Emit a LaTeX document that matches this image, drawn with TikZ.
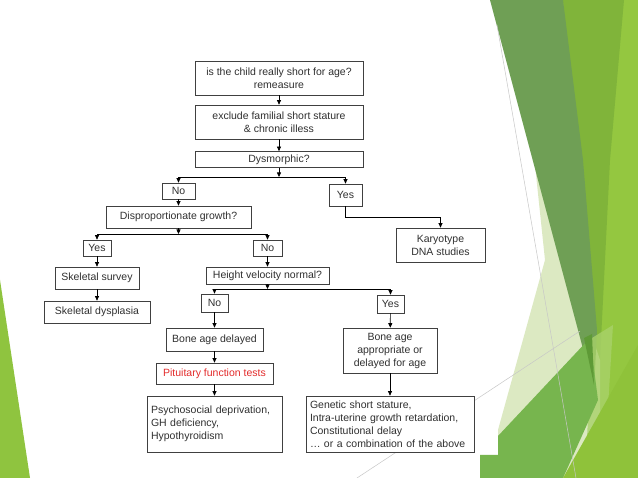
\documentclass[tikz,border=0pt]{standalone}
\usepackage{fontspec}
\setmainfont{Liberation Sans}
\usetikzlibrary{arrows.meta}
\definecolor{boxc}{HTML}{404040}
\definecolor{txt}{HTML}{303030}
\definecolor{redt}{HTML}{E32B2B}
\definecolor{gbright}{HTML}{94C740}
\definecolor{gmed}{HTML}{80B43A}
\definecolor{gdark}{HTML}{6F9F55}
\definecolor{gpale}{HTML}{DCE9C2}
\definecolor{gbottom}{HTML}{77B54E}
\definecolor{gyel}{HTML}{8FC23A}
\definecolor{glight}{HTML}{A8D16A}
\definecolor{gtip}{HTML}{5E9A36}
\definecolor{gleft}{HTML}{8FC43F}
\begin{document}
\begin{tikzpicture}[x=1pt,y=-1pt,
  box/.style={draw=boxc, line width=0.7pt, fill=white, inner sep=0pt, align=center, text=txt, font=\fontsize{10.5}{13}\selectfont},
  lbox/.style={box, align=left, inner xsep=4pt},
  arr/.style={-{Triangle[length=4.5pt,width=4pt]}, line width=0.7pt},
  thin/.style={draw=black!22, line width=0.5pt}]
\useasboundingbox (0,0) rectangle (638,478);
\fill[white] (0,0) rectangle (638,478);
% background decoration
\fill[gleft] (0,280) -- (30,478) -- (0,478) -- cycle;
\fill[gbright] (560,0) -- (638,0) -- (638,478) -- (560,478) -- cycle;
\fill[gmed] (563,0) -- (624,0) -- (610,160) -- (597,420) -- cycle;
\fill[gpale] (535,165) -- (545,260) -- (498,430) -- (498,478) -- (600,478) -- (600,360) -- cycle;
\fill[gdark] (490,0) -- (563,0) -- (583,160) -- (597,330) -- (594,390) -- cycle;
\fill[glight, opacity=0.8] (592,338) -- (613,325) -- (606,440) -- (585,478) -- cycle;
\fill[gbottom] (480,478) -- (480,455) -- (498,455) -- (498,436) -- (590,338) -- (598,400) -- (563,478) -- cycle;
\fill[gtip] (584,338) -- (592,334) -- (594,385) -- cycle;
\fill[gyel] (563,478) -- (638,345) -- (638,478) -- cycle;
\draw[thin] (497,25) -- (576,478);
\draw[thin] (357,478) -- (580,331);
% flowchart nodes
\node[box, minimum width=168pt, minimum height=34pt] (q) at (279,78) {is the child really short for age?\\remeasure};
\node[box, minimum width=168pt, minimum height=34pt] (ex) at (279,122) {exclude familial short stature\\\& chronic illess};
\node[box, minimum width=168pt, minimum height=16pt] (dys) at (279,159.5) {Dysmorphic?};
\node[box, minimum width=33pt, minimum height=16pt] (no1) at (178.5,191) {No};
\node[box, minimum width=33pt, minimum height=22pt] (yes1) at (345.5,195) {Yes};
\node[box, minimum width=145pt, minimum height=22pt] (disp) at (178.5,217) {Disproportionate growth?};
\node[box, minimum width=28pt, minimum height=16pt] (yes2) at (97,248) {Yes};
\node[box, minimum width=29pt, minimum height=16pt] (no2) at (267.5,248) {No};
\node[box, minimum width=89pt, minimum height=34pt] (kary) at (440.5,245) {Karyotype\\DNA studies};
\node[box, minimum width=84pt, minimum height=22pt] (sks) at (97,278) {Skeletal survey};
\node[box, minimum width=106pt, minimum height=22pt] (skd) at (97,312) {Skeletal dysplasia};
\node[box, minimum width=123pt, minimum height=17pt] (hv) at (267.5,275.5) {Height velocity normal?};
\node[box, minimum width=27pt, minimum height=18pt] (no3) at (214.5,303) {No};
\node[box, minimum width=27pt, minimum height=18pt] (yes3) at (390.5,304) {Yes};
\node[box, minimum width=97pt, minimum height=23pt] (bad) at (214.5,339.5) {Bone age delayed};
\node[box, minimum width=117pt, minimum height=21pt, text=redt] (pft) at (214.5,373.5) {Pituitary function tests};
\node[lbox, text width=127pt, minimum height=56pt] (psy) at (214.5,424) {Psychosocial deprivation,\\GH deficiency,\\Hypothyroidism};
\node[box, minimum width=94pt, minimum height=45pt] (baa) at (390,350.5) {Bone age\\appropriate or\\delayed for age};
\node[lbox, text width=160pt, minimum height=56pt] (gen) at (390,424) {Genetic short stature,\\Intra-uterine growth retardation,\\Constitutional delay\\\ldots{} or a combination of the above};
% junction coordinates
\coordinate (j1) at (279,177);
\coordinate (j2) at (178.5,234);
\coordinate (j3) at (267.5,289);
% connectors
\draw[arr] (q) -- (ex);
\draw[arr] (ex) -- (dys);
\draw[arr] (dys.south) -- (j1);
\draw[arr] (j1) -| (no1.north);
\draw[arr] (j1) -| (yes1.north);
\draw[arr] (no1) -- (disp);
\draw[arr] (yes1.south) -- ++(0,11) -| (kary.north);
\draw[arr] (disp.south) -- (j2);
\draw[arr] (j2) -| (yes2.north);
\draw[arr] (j2) -| (no2.north);
\draw[arr] (yes2) -- (sks);
\draw[arr] (sks) -- (skd);
\draw[arr] (no2) -- (hv);
\draw[arr] (hv.south) -- (j3);
\draw[arr] (j3) -| (no3.north);
\draw[arr] (j3) -| (yes3.north);
\draw[arr] (no3) -- (bad);
\draw[arr] (bad) -- (pft);
\draw[arr] (pft) -- (psy);
\draw[arr] (yes3) -- (baa);
\draw[arr] (baa) -- (gen);
\end{tikzpicture}
\end{document}
